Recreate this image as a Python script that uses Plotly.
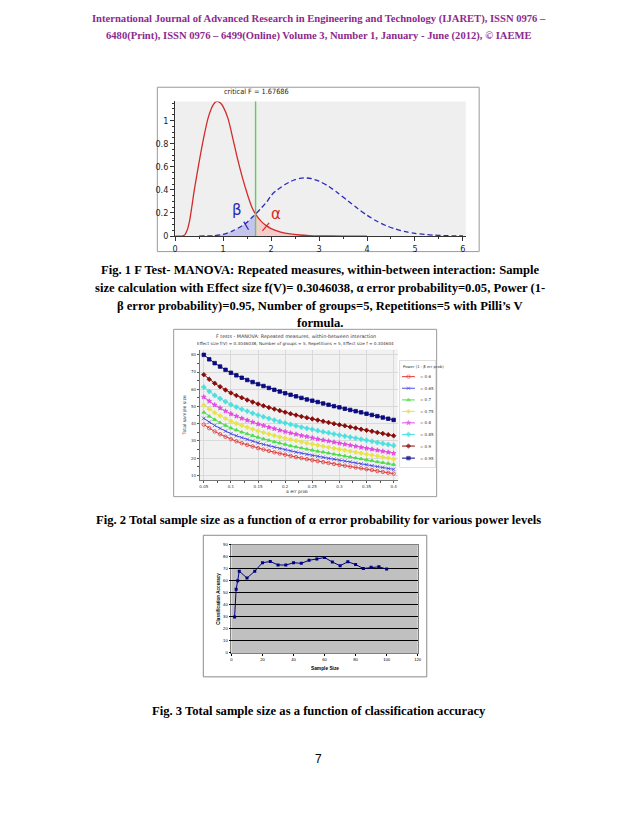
import plotly.graph_objects as go

# page offset: the html body has an 8px margin
OFF = 8
W, H = 638 - 2 * OFF, 826 - 2 * OFF

# ---------------- Fig 1 data (F distributions) ----------------
crit_f = 1.67686
central_x = [0.0, 0.15, 0.2, 0.25, 0.3, 0.35, 0.4, 0.5, 0.6, 0.7, 0.8, 0.87, 0.95, 1.0, 1.1, 1.2,
             1.3, 1.4, 1.5, 1.6, 1.67686, 1.8, 1.9, 2.0, 2.2, 2.4, 2.6, 2.8, 3.0, 3.5, 4.0]
central_y = [0, 0, 0.01, 0.05, 0.13, 0.26, 0.40, 0.64, 0.86, 1.04, 1.14, 1.165, 1.15, 1.12, 1.02, 0.85,
             0.67, 0.51, 0.37, 0.25, 0.19, 0.125, 0.09, 0.065, 0.035, 0.018, 0.009, 0.004, 0.002, 0, 0]
noncentral_x = [0.5, 0.8, 1.0, 1.2, 1.4, 1.5, 1.6, 1.67686, 1.8, 1.9, 2.0, 2.1, 2.2, 2.3, 2.4, 2.5,
                2.6, 2.7, 2.8, 2.9, 3.0, 3.2, 3.4, 3.6, 3.8, 4.0, 4.2, 4.4, 4.6, 4.8, 5.0, 5.2,
                5.4, 5.6, 5.8, 6.0]
noncentral_y = [0, 0.003, 0.015, 0.045, 0.09, 0.12, 0.16, 0.19, 0.245, 0.29, 0.35, 0.39, 0.42, 0.448,
                0.47, 0.488, 0.499, 0.503, 0.5, 0.49, 0.475, 0.43, 0.37, 0.305, 0.24, 0.18, 0.13,
                0.09, 0.06, 0.038, 0.023, 0.014, 0.008, 0.004, 0.002, 0.001]
fig1_xticks = [0, 1, 2, 3, 4, 5, 6]
fig1_yticks = [0, 0.2, 0.4, 0.6, 0.8, 1]
fig1_yticktext = ["0", "0.2", "0.4", "0.6", "0.8", "1"]

# ---------------- Fig 2 data (sample size vs alpha) ----------------
alpha_err = [0.05, 0.06, 0.07, 0.08, 0.09, 0.10, 0.11, 0.12, 0.13, 0.14, 0.15, 0.16, 0.17, 0.18,
             0.19, 0.20, 0.21, 0.22, 0.23, 0.24, 0.25, 0.26, 0.27, 0.28, 0.29, 0.30, 0.31, 0.32,
             0.33, 0.34, 0.35, 0.36, 0.37, 0.38, 0.39, 0.40]
power_labels = ["= 0.6", "= 0.65", "= 0.7", "= 0.75", "= 0.8", "= 0.85", "= 0.9", "= 0.95"]
n_p60 = [39.5, 37.4, 35.5, 33.9, 32.4, 31.0, 29.8, 28.7, 27.7, 26.8, 25.8, 25.0, 24.2, 23.4, 22.7,
         22.0, 21.3, 20.6, 20.0, 19.4, 18.8, 18.3, 17.7, 17.2, 16.6, 16.1, 15.6, 15.1, 14.6, 14.1,
         13.6, 13.1, 12.5, 12.0, 11.5, 11.0]
n_p65 = [43.1, 40.9, 39.0, 37.3, 35.7, 34.2, 33.0, 31.9, 30.9, 29.9, 28.9, 28.0, 27.2, 26.4, 25.6,
         24.9, 24.2, 23.5, 22.9, 22.2, 21.6, 21.1, 20.5, 19.9, 19.4, 18.8, 18.3, 17.8, 17.2, 16.7,
         16.2, 15.6, 15.1, 14.6, 14.0, 13.5]
n_p70 = [46.6, 44.3, 42.4, 40.6, 39.0, 37.5, 36.3, 35.1, 34.1, 33.1, 32.1, 31.2, 30.3, 29.5, 28.7,
         28.0, 27.2, 26.5, 25.9, 25.2, 24.6, 24.0, 23.5, 22.9, 22.3, 21.8, 21.2, 20.7, 20.1, 19.6,
         19.0, 18.5, 17.9, 17.4, 16.9, 16.3]
n_p75 = [50.8, 48.5, 46.4, 44.6, 43.0, 41.4, 40.1, 39.0, 37.9, 36.8, 35.8, 34.9, 34.0, 33.1, 32.3,
         31.6, 30.8, 30.1, 29.4, 28.7, 28.1, 27.5, 26.9, 26.3, 25.7, 25.1, 24.6, 24.0, 23.4, 22.9,
         22.3, 21.8, 21.2, 20.6, 20.1, 19.5]
n_p80 = [55.5, 53.1, 50.9, 49.1, 47.3, 45.7, 44.4, 43.1, 42.0, 40.9, 39.8, 38.9, 37.9, 37.1, 36.2,
         35.4, 34.6, 33.9, 33.1, 32.5, 31.8, 31.1, 30.5, 29.9, 29.3, 28.7, 28.1, 27.5, 26.9, 26.3,
         25.7, 25.2, 24.6, 24.0, 23.4, 22.8]
n_p85 = [61.3, 58.8, 56.5, 54.6, 52.8, 51.1, 49.7, 48.4, 47.3, 46.1, 45.0, 44.0, 43.0, 42.1, 41.2,
         40.4, 39.6, 38.8, 38.0, 37.3, 36.7, 36.0, 35.3, 34.7, 34.0, 33.4, 32.8, 32.2, 31.6, 31.0,
         30.4, 29.8, 29.1, 28.5, 27.9, 27.3]
n_p90 = [68.5, 65.8, 63.5, 61.5, 59.6, 57.9, 56.4, 55.1, 53.8, 52.6, 51.5, 50.4, 49.4, 48.5, 47.6,
         46.7, 45.8, 45.0, 44.2, 43.5, 42.8, 42.1, 41.4, 40.7, 40.0, 39.4, 38.8, 38.1, 37.5, 36.8,
         36.2, 35.6, 34.9, 34.3, 33.6, 33.0]
n_p95 = [80.0, 77.4, 75.2, 73.2, 71.3, 69.6, 68.1, 66.7, 65.4, 64.2, 63.0, 61.9, 60.8, 59.7, 58.7,
         57.7, 56.8, 55.9, 55.0, 54.1, 53.4, 52.6, 51.8, 51.0, 50.2, 49.5, 48.7, 48.0, 47.3, 46.6,
         45.8, 45.1, 44.4, 43.6, 42.9, 42.2]
power_series = [n_p60, n_p65, n_p70, n_p75, n_p80, n_p85, n_p90, n_p95]
fig2_xticks = [0.05, 0.1, 0.15, 0.2, 0.25, 0.3, 0.35, 0.4]
fig2_xticktext = ["0.05", "0.1", "0.15", "0.2", "0.25", "0.3", "0.35", "0.4"]
fig2_yticks = [10, 20, 30, 40, 50, 60, 70, 80]

# ---------------- Fig 3 data (classification accuracy) ----------------
sample_size = [2, 3, 4, 5, 10, 15, 20, 25, 30, 35, 40, 45, 50, 55, 60, 65, 70, 75, 80, 85, 90, 95, 100]
accuracy = [29.8, 53, 60, 68, 62.2, 68, 75, 76, 73.2, 73, 75, 74.5, 77, 78, 79.3, 75.6, 72.5, 75.8,
            73.5, 70.2, 71.2, 71.6, 69.7]

# ---------------- styles ----------------
series_colors = ["#e03a3a", "#4a4ae6", "#4ddc4d", "#e8e34a", "#e24ae2", "#4ae0e0", "#8b0a0a", "#0a0a80"]
series_symbols = ["circle-open", "x-thin-open", "triangle-up", "diamond", "star", "cross", "diamond", "square"]
legend_rows_y = [377.3, 389.0, 400.8, 412.4, 424.0, 435.6, 447.4, 459.6]


def px(x):
    return (x - OFF) / W


def py(y):
    return 1 - (y - OFF) / H


fig = go.Figure()

# ---- Fig 1 ----
def split_at(xs, ys, left):
    out_x, out_y = [], []
    for a, b in zip(xs, ys):
        if (a <= crit_f + 1e-9) if left else (a >= crit_f - 1e-9):
            out_x.append(a)
            out_y.append(b)
    return out_x, out_y

bx, by = split_at(noncentral_x, noncentral_y, True)
rx, ry = split_at(central_x, central_y, False)
fig.add_trace(go.Scatter(x=bx, y=by, mode="lines", fill="tozeroy", fillcolor="rgba(160,160,235,0.55)",
                         line=dict(width=0, shape="spline", smoothing=0.8), xaxis="x", yaxis="y",
                         hoverinfo="skip"))
fig.add_trace(go.Scatter(x=rx, y=ry, mode="lines", fill="tozeroy", fillcolor="rgba(245,175,175,0.55)",
                         line=dict(width=0, shape="spline", smoothing=0.8), xaxis="x", yaxis="y",
                         hoverinfo="skip"))
fig.add_trace(go.Scatter(x=central_x, y=central_y, mode="lines",
                         line=dict(color="#d42a2a", width=1.3, shape="spline", smoothing=0.8),
                         xaxis="x", yaxis="y"))
fig.add_trace(go.Scatter(x=noncentral_x, y=noncentral_y, mode="lines",
                         line=dict(color="#2a2ab8", width=1.3, dash="5px,3px", shape="spline", smoothing=0.8),
                         xaxis="x", yaxis="y"))
fig.add_trace(go.Scatter(x=[crit_f, crit_f], y=[0, 1.19], mode="lines", cliponaxis=False,
                         line=dict(color="#5ad25a", width=1.4), xaxis="x", yaxis="y"))

# ---- Fig 2 ----
for vals, col, sym in zip(power_series, series_colors, series_symbols):
    fig.add_trace(go.Scatter(x=alpha_err, y=vals, mode="lines+markers",
                             line=dict(color=col, width=1),
                             marker=dict(symbol=sym, size=3.5, color=col, line=dict(color=col, width=0.8)),
                             xaxis="x2", yaxis="y2"))
# legend swatches (pixel overlay axis)
for ly, col, sym in zip(legend_rows_y, series_colors, series_symbols):
    fig.add_trace(go.Scatter(x=[403.5, 410, 416.5], y=[ly, ly, ly], mode="lines+markers",
                             line=dict(color=col, width=1),
                             marker=dict(symbol=sym, size=[0, 3.5, 0], color=col, line=dict(color=col, width=0.8)),
                             xaxis="x4", yaxis="y4", hoverinfo="skip"))

# ---- Fig 3 ----
fig.add_trace(go.Scatter(x=sample_size, y=accuracy, mode="lines+markers",
                         line=dict(color="#000080", width=1),
                         marker=dict(symbol="square", size=3, color="#000080"),
                         xaxis="x3", yaxis="y3"))

g_font = "Liberation Sans Narrow, DejaVu Sans Condensed, Roboto, Liberation Sans"
s_font = "DejaVu Sans, Liberation Sans"
a_font = "Liberation Sans, Arial"
serif = "Liberation Serif, Times New Roman"

fig.update_layout(
    width=W, height=H, margin=dict(l=0, r=0, t=0, b=0),
    paper_bgcolor="white", plot_bgcolor="rgba(0,0,0,0)", showlegend=False,
    xaxis=dict(domain=[px(174), px(468)], range=[0, 6.06], anchor="y", tickvals=fig1_xticks,
               ticks="outside", ticklen=4, tickcolor="#333", showline=True, linecolor="#333", linewidth=1,
               showgrid=False, zeroline=False, tickfont=dict(family=g_font, size=9, color="#222"),
               minor=dict(ticks="outside", ticklen=2, dtick=0.5, tickcolor="#333", showgrid=False)),
    yaxis=dict(domain=[py(235.3), py(99.3)], range=[0, 1.165], anchor="x", tickvals=fig1_yticks,
               ticktext=fig1_yticktext, ticks="outside", ticklen=4, tickcolor="#333", showline=True,
               linecolor="#333", linewidth=1, showgrid=False, zeroline=False,
               tickfont=dict(family=g_font, size=9, color="#222"),
               minor=dict(ticks="outside", ticklen=2, dtick=0.05, tickcolor="#333", showgrid=False)),
    xaxis2=dict(domain=[px(199), px(399)], range=[0.0427, 0.4073], anchor="y2", tickvals=fig2_xticks,
                ticktext=fig2_xticktext, ticks="outside", ticklen=2, tickcolor="#555", showline=True,
                linecolor="#777", linewidth=0.8, showgrid=True, gridcolor="#d9d9d9", gridwidth=0.6,
                zeroline=False, tickfont=dict(family=s_font, size=4, color="#333"),
                minor=dict(ticks="outside", ticklen=1.5, dtick=0.025, tick0=0.025, tickcolor="#555")),
    yaxis2=dict(domain=[py(482), py(350)], range=[7.12, 83.05], anchor="x2", tickvals=fig2_yticks,
                ticks="outside", ticklen=2, tickcolor="#555", showline=True, linecolor="#777",
                linewidth=0.8, showgrid=True, gridcolor="#d9d9d9", gridwidth=0.6, zeroline=False,
                tickfont=dict(family=s_font, size=4, color="#333"),
                minor=dict(ticks="outside", ticklen=1.5, dtick=5, tickcolor="#555")),
    xaxis3=dict(domain=[px(231), px(419.3)], range=[0, 120], anchor="y3", dtick=20, ticks="outside",
                ticklen=2, tickcolor="#000", showline=True, linecolor="#808080", linewidth=0.8,
                mirror=True, showgrid=False, zeroline=False,
                tickfont=dict(family=a_font, size=4.2, color="#000")),
    yaxis3=dict(domain=[py(656.3), py(547)], range=[0, 90], anchor="x3", dtick=10, ticks="outside",
                ticklen=2, tickcolor="#000", showline=True, linecolor="#808080", linewidth=0.8,
                mirror=True, showgrid=True, gridcolor="#000", gridwidth=0.6, zeroline=False,
                tickfont=dict(family=a_font, size=4.2, color="#000")),
    xaxis4=dict(domain=[0, 1], range=[OFF, OFF + W], anchor="y4", visible=False, fixedrange=True),
    yaxis4=dict(domain=[0, 1], range=[OFF + H, OFF], anchor="x4", visible=False, fixedrange=True),
)

shapes = [
    # Fig 1 frame and plot background
    dict(type="rect", xref="paper", yref="paper", x0=px(156), x1=px(481.5), y0=py(251), y1=py(85),
         line=dict(color="#9a9a9a", width=1), layer="below"),
    dict(type="rect", xref="x domain", yref="y domain", x0=0, x1=1, y0=0, y1=1,
         fillcolor="#efefef", line=dict(width=0), layer="below"),
    # alpha / beta markers
    dict(type="line", xref="x", yref="y", x0=1.43, y0=0.125, x1=1.53, y1=0.055,
         line=dict(color="#2a2ab8", width=1.2)),
    dict(type="line", xref="x", yref="y", x0=1.82, y0=0.045, x1=1.96, y1=0.115,
         line=dict(color="#d42a2a", width=1.2)),
    # Fig 2 frame, background, legend box
    dict(type="rect", xref="paper", yref="paper", x0=px(172.5), x1=px(438.5), y0=py(498.5), y1=py(329.5),
         line=dict(color="#9a9a9a", width=1), layer="below"),
    dict(type="rect", xref="x2 domain", yref="y2 domain", x0=0, x1=1, y0=0, y1=1,
         fillcolor="#f1f1f1", line=dict(width=0), layer="below"),
    dict(type="rect", xref="paper", yref="paper", x0=px(401), x1=px(437.5), y0=py(469), y1=py(361),
         fillcolor="white", line=dict(color="#c8c8c8", width=0.6), layer="below"),
    # Fig 3 frame and background
    dict(type="rect", xref="paper", yref="paper", x0=px(202.5), x1=px(428.5), y0=py(680.5), y1=py(537.5),
         line=dict(color="#8a8a8a", width=1), layer="below"),
    dict(type="rect", xref="x3 domain", yref="y3 domain", x0=0, x1=1, y0=0, y1=1,
         fillcolor="#c0c0c0", line=dict(width=0), layer="below"),
]
fig.update_layout(shapes=shapes)


def ann(text, x, y, size, family, color="#000", xanchor="center", yanchor="middle", textangle=0):
    return dict(text=text, x=px(x), y=py(y), xref="paper", yref="paper", showarrow=False,
                xanchor=xanchor, yanchor=yanchor, textangle=textangle,
                font=dict(size=size, family=family, color=color))


purple = "#8e2a8e"
annotations = [
    ann("<b>International Journal of Advanced Research in Engineering and Technology (IJARET), ISSN 0976 –</b>",
        319, 16, 10.6, serif, purple),
    ann("<b>6480(Print), ISSN 0976 – 6499(Online) Volume 3, Number 1, January - June (2012), © IAEME</b>",
        319, 33, 10.6, serif, purple),
    # Fig 1 texts
    ann("critical F = 1.67686", 256, 89.5, 7.3, g_font, "#222"),
    dict(text="β", x=1.30, y=0.225, xref="x", yref="y", showarrow=False,
         font=dict(size=15, family=s_font, color="#2a2ab8")),
    dict(text="α", x=2.11, y=0.19, xref="x", yref="y", showarrow=False,
         font=dict(size=15, family=s_font, color="#d42a2a")),
    ann("<b>Fig. 1 F Test- MANOVA: Repeated measures, within-between interaction: Sample</b>", 321, 270, 12.6, serif),
    ann("<b>size calculation with Effect size f(V)= 0.3046038, α error probability=0.05, Power (1-</b>", 321, 288, 12.6, serif),
    ann("<b>β error probability)=0.95, Number of groups=5, Repetitions=5 with Pilli’s V</b>", 321, 306, 12.6, serif),
    ann("<b>formula.</b>", 321, 323, 12.6, serif),
    # Fig 2 texts
    ann("F tests - MANOVA: Repeated measures, within-between interaction", 296, 336.8, 4.8, s_font, "#333"),
    ann("Effect size f(V) = 0.3046038, Number of groups = 5, Repetitions = 5, Effect size f = 0.304604",
        296, 343.4, 4.2, s_font, "#333"),
    ann("Total sample size", 183.5, 417, 4.6, s_font, "#333", textangle=-90),
    ann("α err prob", 297, 493.3, 4.4, s_font, "#333"),
    ann("Power (1 - β err prob)", 402.5, 366.7, 3.8, s_font, "#333", xanchor="left"),
    ann("<b>Fig. 2 Total sample size as a function of α error probability for various power levels</b>",
        319, 522, 12.6, serif),
    # Fig 3 texts
    ann("<b>Classification Accuracy</b>", 218.5, 601.5, 4.6, a_font, textangle=-90),
    ann("<b>Sample Size</b>", 325.5, 671.7, 4.8, a_font),
    ann("<b>Fig. 3 Total sample size as a function of classification accuracy</b>", 319, 715, 12.6, serif),
    ann("7", 319, 763, 12, "Liberation Sans, Arial"),
]
for lbl, ly in zip(power_labels, legend_rows_y):
    annotations.append(ann(lbl, 419.5, ly, 4, s_font, "#333", xanchor="left"))
fig.update_layout(annotations=annotations)

fig.write_html("out.html")
